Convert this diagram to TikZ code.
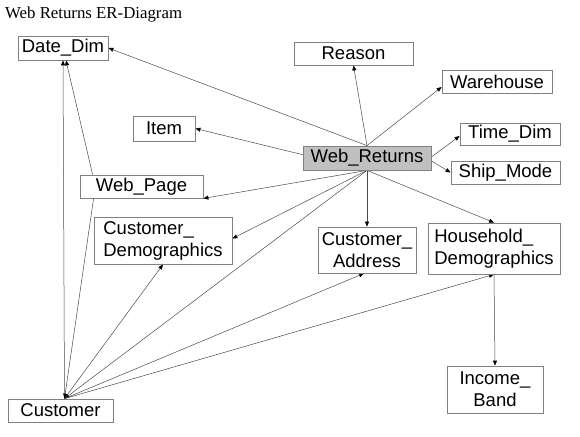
\documentclass[tikz,border=0pt]{standalone}
\usepackage{fontspec}
\setmainfont{Liberation Sans}
\newfontfamily\titlefont{Liberation Serif}
\usetikzlibrary{arrows.meta,backgrounds}
\definecolor{boxgray}{HTML}{808080}
\definecolor{linegray}{HTML}{4A4A4A}
\definecolor{wrfill}{HTML}{C0C0C0}
\begin{document}
\begin{tikzpicture}[x=1pt,y=-1pt,
  ent/.style={draw=boxgray,line width=0.8pt,fill=white,inner sep=0pt,
    font=\fontsize{18.5}{22}\selectfont,align=center},
  entl/.style={ent,align=left},
  conn/.style={draw=linegray,line width=0.5pt,-{Triangle[length=5pt,width=4pt,color=black]}},
  line/.style={draw=linegray,line width=0.5pt},
]
\useasboundingbox (0,0) rectangle (580,436);

\node[anchor=base west,font=\titlefont\fontsize{16.8}{20}\selectfont,inner sep=0pt] (title) at (5,19) {Web Returns ER-Diagram};

\node[ent,minimum width=90pt,minimum height=24pt] (date) at (63,48) {Date\_Dim};
\node[ent,minimum width=119pt,minimum height=23pt] (reason) at (353.5,53.5) {Reason};
\node[ent,minimum width=110pt,minimum height=23pt] (wh) at (497,81.5) {Warehouse};
\node[ent,minimum width=62pt,minimum height=25pt] (item) at (164,128.5) {Item};
\node[ent,minimum width=100pt,minimum height=22pt] (time) at (510,134) {Time\_Dim};
\node[ent,fill=wrfill,minimum width=128pt,minimum height=24pt] (wr) at (367,158) {Web\_Returns};
\node[ent,minimum width=109pt,minimum height=23pt] (ship) at (505.5,172.5) {Ship\_Mode};
\node[ent,minimum width=123pt,minimum height=23pt] (wp) at (141.5,186.5) {Web\_Page};
\node[entl,minimum width=138pt,minimum height=47pt] (cd) at (163,240.5) {Customer\_\\Demographics};
\node[ent,minimum width=98pt,minimum height=46pt] (ca) at (367,250) {Customer\_\\Address};
\node[entl,minimum width=132pt,minimum height=51pt] (hd) at (494,248.5) {Household\_\\Demographics};
\node[ent,minimum width=105pt,minimum height=23pt] (cust) at (60.5,410.5) {Customer};
\node[ent,minimum width=96pt,minimum height=47pt] (ib) at (495,389.5) {Income\_\\Band};

\coordinate (custtop) at ([xshift=4pt]cust.north);

\begin{scope}[on background layer]
  % from Web_Returns top
  \draw[conn] (wr.north) -- (date.east);
  \draw[conn] (wr.north) -- (reason.south);
  \draw[conn] (wr.north) -- ([yshift=-5.5pt]wh.west);
  % from Web_Returns right
  \draw[conn] ([yshift=1pt]wr.east) -- ([yshift=-2pt]time.west);
  \draw[conn] ([yshift=-3pt]wr.east) -- (ship.west);
  % from Web_Returns bottom
  \draw[conn] (wr.south) -- (item.east);
  \draw[conn] (wr.south) -- (wp.south east);
  \draw[conn] (wr.south) -- ([yshift=2pt]cd.east);
  \draw[conn] (wr.south) -- (ca.north);
  \draw[conn] (wr.south) -- (hd.north);
  \draw[conn] (wr.south) -- (custtop);
  % Customer
  \draw[conn] (custtop) -- (date.south);
  \draw[conn] (custtop) -- (cd.south);
  \draw[conn] (custtop) -- ([xshift=-3pt]ca.south);
  \draw[conn] (custtop) -- (hd.south);
  % Web_Page
  \draw[conn] ([xshift=13pt]wp.north west) -- ([xshift=3pt]date.south);
  \draw[conn] ([xshift=14pt]wp.south west) -- (custtop);
  % Household -> Income band
  \draw[conn] (hd.south) -- (ib.north);
\end{scope}
\end{tikzpicture}
\end{document}
